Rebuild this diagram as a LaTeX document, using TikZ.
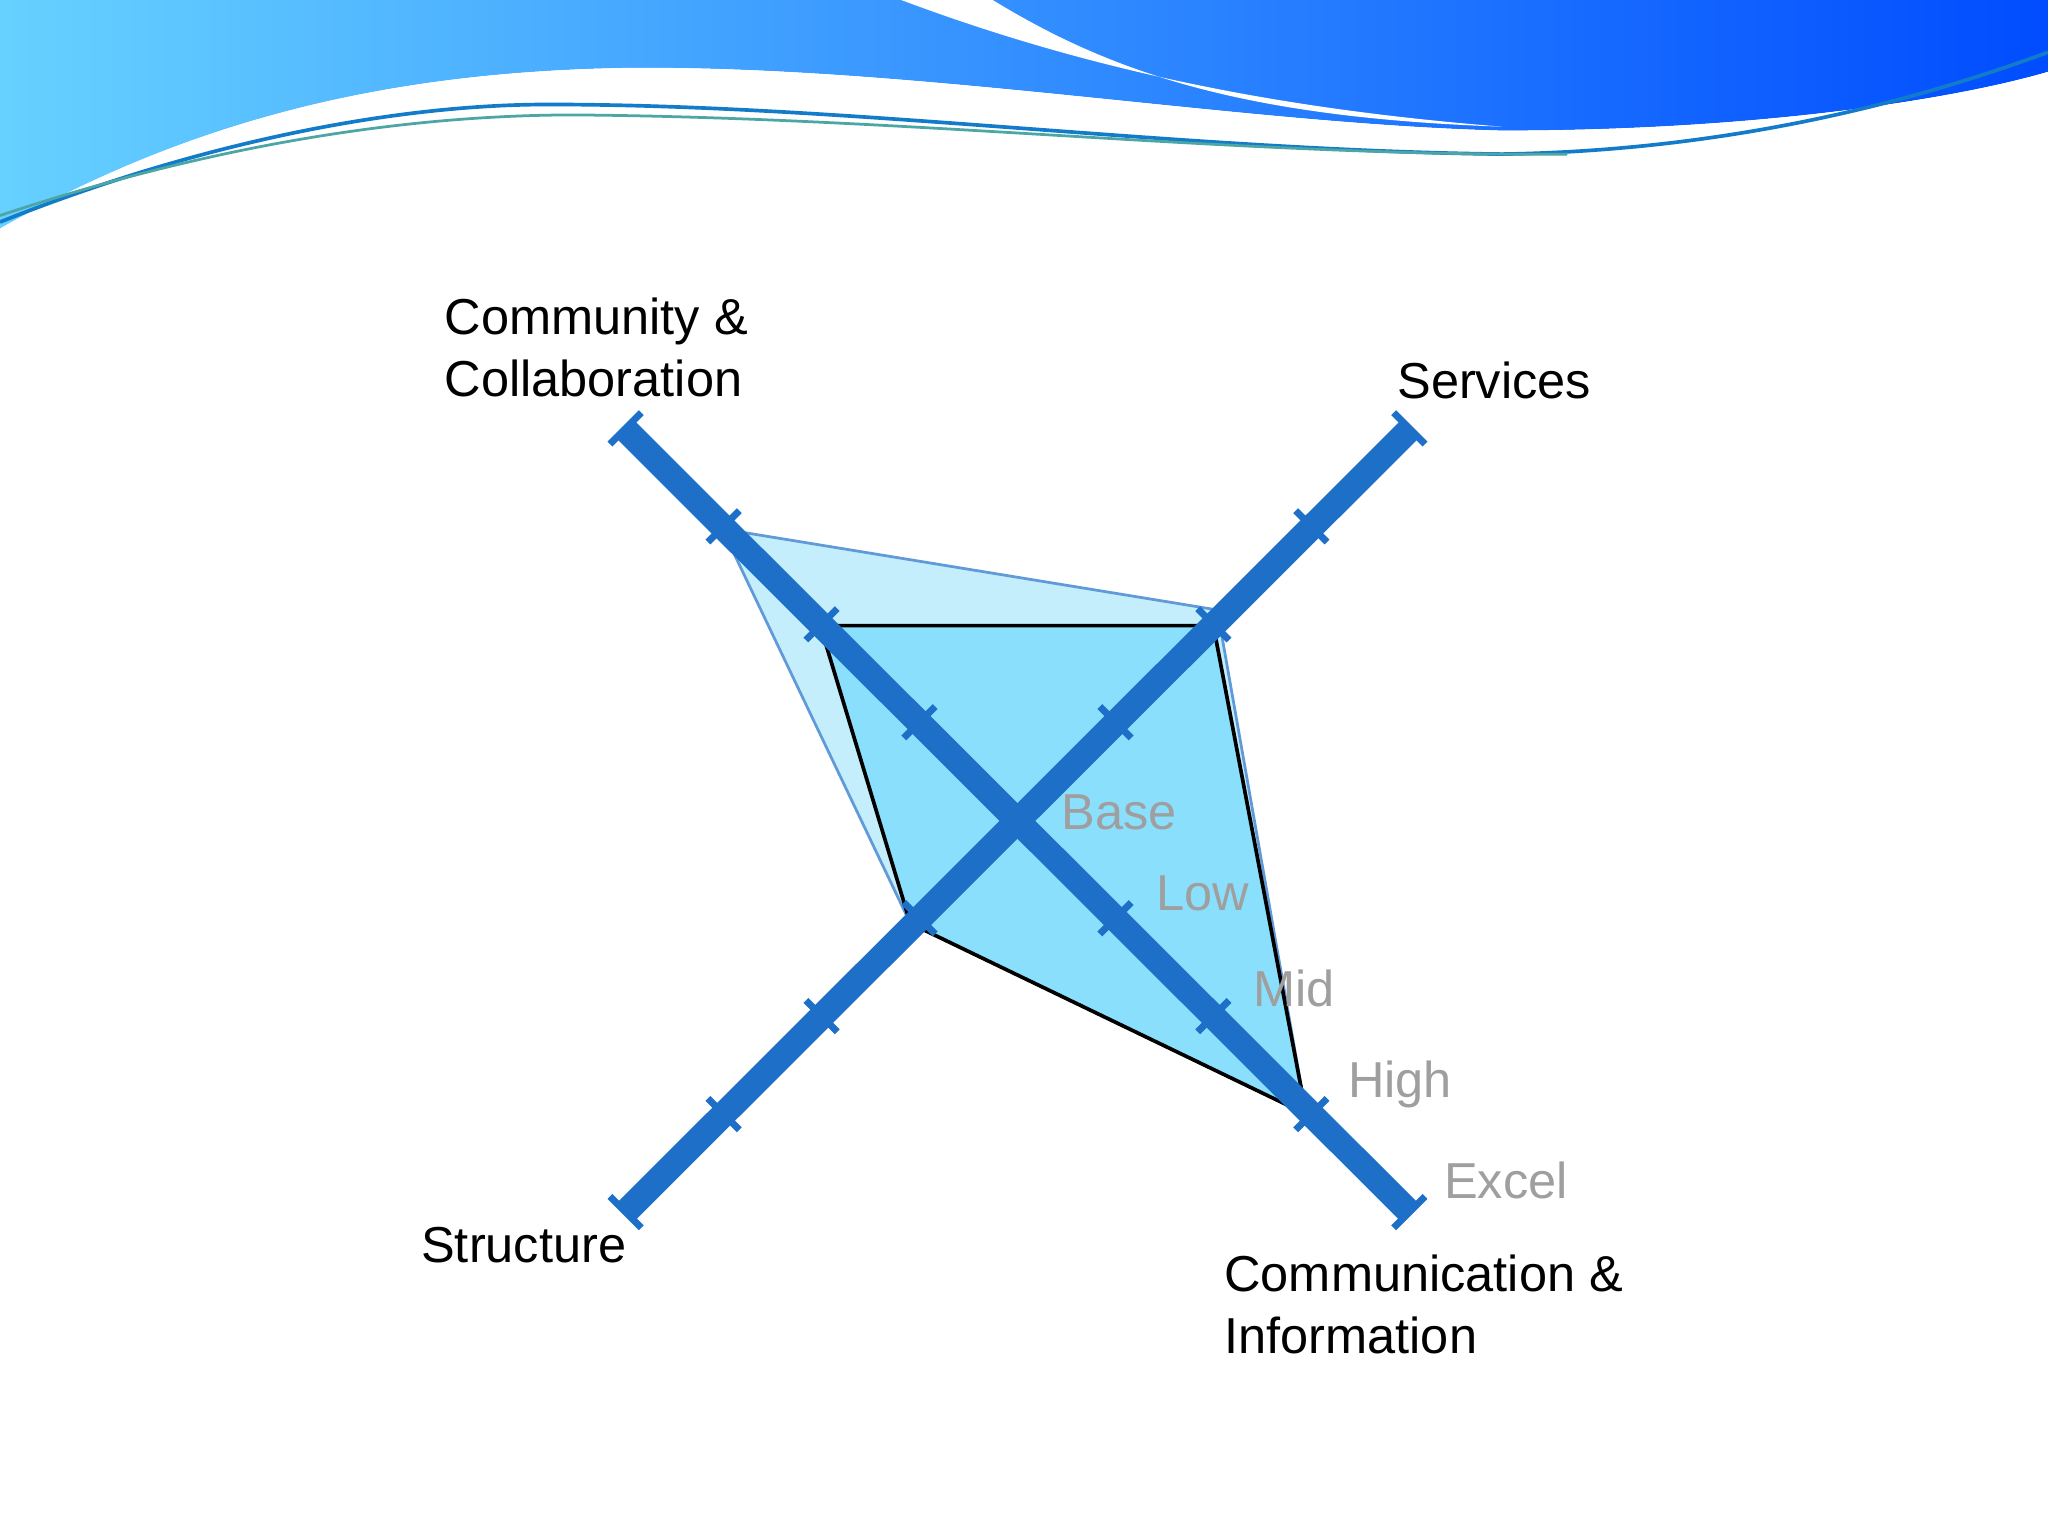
\documentclass[tikz,border=0pt]{standalone}
\usepackage{fontspec}
\setmainfont{Liberation Sans}
\usetikzlibrary{calc}
\begin{document}
\begin{tikzpicture}[x=0.01cm,y=-0.01cm,
  axis/.style={draw=axblue,line width=5.5pt},
  tick/.style={draw=axblue,line width=1.5pt},
  lvl/.style={text=gray!75,font=\fontsize{11}{13}\selectfont,anchor=center},
  ttl/.style={font=\fontsize{11}{13.5}\selectfont,align=left}]
\definecolor{axblue}{HTML}{1E6FC8}
\definecolor{lightfill}{HTML}{C4EEFC}
\definecolor{darkfill}{HTML}{8ADFFC}
\useasboundingbox (0,0) rectangle (1568,1176);
\fill[white] (0,0) rectangle (1568,1176);
% header wave
\shade[left color=cyan!70!blue!60, right color=blue!70!cyan] (0,0) -- (0,175) .. controls (150,90) and (300,55) .. (480,52) .. controls (700,50) and (950,95) .. (1150,100) .. controls (1350,100) and (1500,75) .. (1568,55) -- (1568,0) -- cycle;
\fill[white] (690,0) .. controls (850,60) and (1000,85) .. (1150,97) .. controls (950,90) and (850,55) .. (760,0) -- cycle;
\fill[white] (0,175) .. controls (150,90) and (300,55) .. (480,52) .. controls (700,50) and (950,95) .. (1150,100) .. controls (1350,100) and (1500,75) .. (1568,55) -- (1568,65) .. controls (1400,110) and (1300,120) .. (1100,118) .. controls (800,110) and (600,80) .. (420,82) .. controls (250,85) and (100,130) .. (0,175) -- cycle;
\draw[cyan!60!blue,line width=0.8pt] (0,170) .. controls (150,110) and (300,80) .. (420,80) .. controls (650,80) and (900,115) .. (1150,118) .. controls (1350,115) and (1500,65) .. (1568,40);
\draw[teal!70,line width=0.6pt] (0,165) .. controls (150,115) and (300,88) .. (440,88) .. controls (700,90) and (950,120) .. (1200,118);
% polygons
\coordinate (O) at (779,628);
\filldraw[fill=lightfill,draw=axblue!70,line width=0.6pt] (553,405) -- (932,467) -- (1000,853) -- (697,707) -- cycle;
\filldraw[fill=darkfill,draw=black,line width=0.8pt] (628,479) -- (929,479) -- (1000,853) -- (697,707) -- cycle;
% axes
\coordinate (NW) at (479,329);
\coordinate (NE) at (1079,329);
\coordinate (SW) at (479,928);
\coordinate (SE) at (1079,928);
\draw[axis] (NW) -- (SE);
\draw[axis] (SW) -- (NE);
\foreach \k in {1,2,3,4}{
  \foreach \sx/\sy in {-1/-1,1/-1,-1/1,1/1}{
    \path (779+\sx*75*\k,628+\sy*75*\k) coordinate (t);
    \draw[tick] ($(t)+(\sx*12,-\sy*12)$) -- ($(t)+(-\sx*12,\sy*12)$);
  }
}
% labels
\node[lvl] (b) at (857,622) {Base};
\node[lvl] (l) at (921,684) {Low};
\node[lvl] (m) at (991,757) {Mid};
\node[lvl] (h) at (1072,830) {High};
\node[lvl] (e) at (1153,904) {Excel};
\node[ttl,anchor=west] (cc) at (328,266) {Community \&\\Collaboration};
\node[ttl,anchor=center] (sv) at (1144,291) {Services};
\node[ttl,anchor=center] (st) at (401,953) {Structure};
\node[ttl,anchor=west] (ci) at (925,999) {Communication \&\\Information};
\end{tikzpicture}
\end{document}
